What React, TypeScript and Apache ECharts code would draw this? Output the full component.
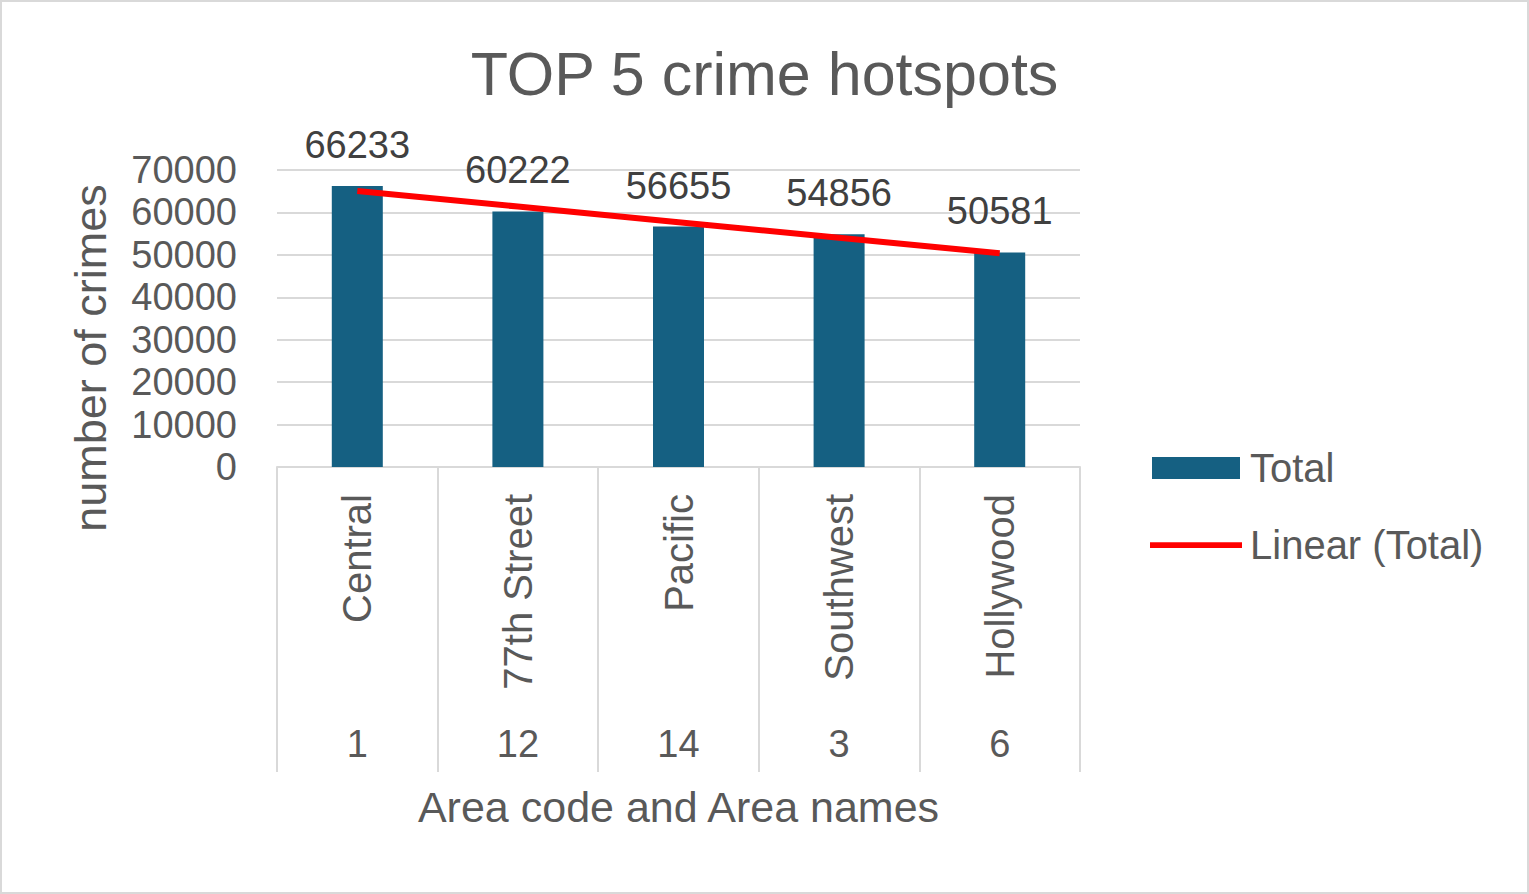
import React, { useEffect, useRef } from "react";
import * as echarts from "echarts";

const areaNames = ["Central", "77th Street", "Pacific", "Southwest", "Hollywood"];
const areaCodes = ["1", "12", "14", "3", "6"];
const totals = [66233, 60222, 56655, 54856, 50581];
const yTicks = [0, 10000, 20000, 30000, 40000, 50000, 60000, 70000];

// Linear trendline (least squares over category index), as Excel computes it
function linearTrend(vals: number[]): number[] {
  const n = vals.length;
  const xs = vals.map((_, i) => i + 1);
  const mx = xs.reduce((a, b) => a + b, 0) / n;
  const my = vals.reduce((a, b) => a + b, 0) / n;
  let num = 0;
  let den = 0;
  for (let i = 0; i < n; i++) {
    num += (xs[i] - mx) * (vals[i] - my);
    den += (xs[i] - mx) * (xs[i] - mx);
  }
  const slope = num / den;
  return xs.map((x) => my + slope * (x - mx));
}

const FONT = "'Liberation Sans', Arial, sans-serif";
const TEXT = "#595959";
const GRID = "#d9d9d9";

export default function App() {
  const ref = useRef<HTMLDivElement>(null);
  useEffect(() => {
    if (!ref.current) return;
    const chart = echarts.init(ref.current, null, { renderer: "svg" });
    const trend = linearTrend(totals);
    chart.setOption({
      animation: false,
      backgroundColor: "#ffffff",
      textStyle: { fontFamily: FONT },
      title: {
        text: "TOP 5 crime hotspots",
        left: "center",
        top: 38,
        textStyle: { fontFamily: FONT, fontSize: 61, fontWeight: "normal", color: TEXT },
      },
      legend: {
        orient: "vertical",
        left: 1150,
        top: 447,
        padding: 0,
        itemWidth: 92,
        itemHeight: 22,
        itemGap: 35,
        textStyle: { fontFamily: FONT, fontSize: 40, color: TEXT, lineHeight: 42, padding: [0, 0, 0, 3] },
        data: [
          { name: "Total", icon: "path://M0 0H88V22H0Z" },
          {
            name: "Linear (Total)",
            icon: "path://M0 0H96V6H0Z",
            itemStyle: { color: "#ff0000", borderWidth: 0 },
          },
        ],
      },
      grid: { left: 277, right: 449, top: 170, bottom: 427, containLabel: false },
      xAxis: [
        {
          type: "category",
          data: areaNames,
          position: "bottom",
          axisLine: { show: true, lineStyle: { color: GRID, width: 2 } },
          axisTick: { show: true, length: 305, lineStyle: { color: GRID, width: 2 } },
          axisLabel: {
            rotate: 90,
            margin: 27,
            fontSize: 40,
            color: TEXT,
            fontFamily: FONT,
            interval: 0,
          },
        },
        {
          type: "category",
          data: areaCodes,
          position: "bottom",
          gridIndex: 0,
          axisLine: { show: false },
          axisTick: { show: false },
          axisLabel: { margin: 258, fontSize: 38, color: TEXT, fontFamily: FONT, interval: 0 },
          name: "Area code and Area names",
          nameLocation: "middle",
          nameGap: 318,
          nameTextStyle: { fontSize: 43, color: TEXT, fontFamily: FONT },
        },
      ],
      yAxis: {
        type: "value",
        min: 0,
        max: 70000,
        interval: 10000,
        axisLine: { show: false },
        axisTick: { show: false },
        axisLabel: {
          margin: 40,
          fontSize: 38,
          color: TEXT,
          fontFamily: FONT,
          formatter: (v: number) => (yTicks.includes(v) ? String(v) : ""),
        },
        splitLine: { show: true, lineStyle: { color: GRID, width: 2 } },
      },
      graphic: [
        {
          type: "rect",
          shape: { x: 1, y: 1, width: 1527, height: 892 },
          style: { fill: "none", stroke: GRID, lineWidth: 2 },
          silent: true,
        },
        {
          type: "text",
          x: 90,
          y: 358,
          rotation: Math.PI / 2,
          style: {
            text: "number of crimes",
            fontSize: 45,
            fontFamily: FONT,
            fill: TEXT,
            textAlign: "center",
            textVerticalAlign: "middle",
          },
        },
      ],
      series: [
        {
          name: "Total",
          type: "bar",
          xAxisIndex: 0,
          data: totals,
          barWidth: 51,
          itemStyle: { color: "#156082" },
          label: {
            show: true,
            position: "top",
            distance: 22,
            fontSize: 38,
            color: "#404040",
            fontFamily: FONT,
          },
          z: 2,
        },
        {
          name: "Linear (Total)",
          type: "line",
          xAxisIndex: 0,
          data: trend,
          symbol: "none",
          lineStyle: { color: "#ff0000", width: 6 },
          itemStyle: { color: "#ff0000" },
          z: 3,
        },
      ],
    });
    return () => chart.dispose();
  }, []);
  return (
    <div
      ref={ref}
      style={{ position: "fixed", left: 0, top: 0, width: 1529, height: 894 }}
    />
  );
}
